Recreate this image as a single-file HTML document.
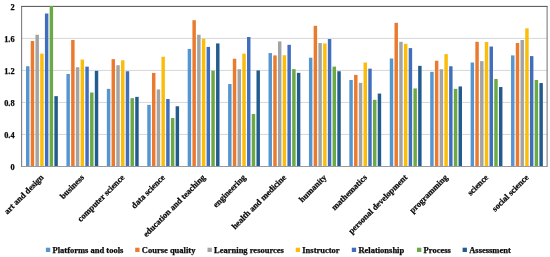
<!DOCTYPE html><html><head><meta charset="utf-8"><title>chart</title><style>html,body{margin:0;padding:0;background:#fff}svg{display:block}text{font-family:"Liberation Serif",serif;font-weight:bold;fill:#0a0a0a;stroke:#0a0a0a;stroke-width:0.25px}</style></head><body>
<svg width="550" height="257" viewBox="0 0 550 257">
<rect width="550" height="257" fill="#fff"/>
<line x1="21.65" x2="547.1" y1="134.48" y2="134.48" stroke="#d4d4d4" stroke-width="0.9"/>
<line x1="21.65" x2="547.1" y1="102.46" y2="102.46" stroke="#d4d4d4" stroke-width="0.9"/>
<line x1="21.65" x2="547.1" y1="70.44" y2="70.44" stroke="#d4d4d4" stroke-width="0.9"/>
<line x1="21.65" x2="547.1" y1="38.42" y2="38.42" stroke="#d4d4d4" stroke-width="0.9"/>
<path d="M21.65 167.0V6.4M547.1 6.4V167.0" fill="none" stroke="#707070" stroke-width="1"/>
<path d="M21.15 6.4H547.6" fill="none" stroke="#505050" stroke-width="1"/>
<rect x="26.00" y="66.24" width="3.45" height="100.26" fill="#5596D1"/>
<rect x="30.73" y="41.02" width="3.45" height="125.48" fill="#E97A2E"/>
<rect x="35.46" y="34.74" width="3.45" height="131.76" fill="#A3A3A3"/>
<rect x="40.19" y="53.63" width="3.45" height="112.87" fill="#FABD0C"/>
<rect x="44.92" y="13.52" width="3.45" height="152.98" fill="#406EBF"/>
<rect x="49.65" y="5.92" width="3.45" height="160.58" fill="#6BA944"/>
<rect x="54.38" y="96.14" width="3.45" height="70.36" fill="#225C8E"/>
<rect x="66.42" y="73.96" width="3.45" height="92.54" fill="#5596D1"/>
<rect x="71.15" y="40.02" width="3.45" height="126.48" fill="#E97A2E"/>
<rect x="75.88" y="67.24" width="3.45" height="99.26" fill="#A3A3A3"/>
<rect x="80.61" y="59.55" width="3.45" height="106.95" fill="#FABD0C"/>
<rect x="85.34" y="66.64" width="3.45" height="99.86" fill="#406EBF"/>
<rect x="90.07" y="92.53" width="3.45" height="73.97" fill="#6BA944"/>
<rect x="94.80" y="70.84" width="3.45" height="95.66" fill="#225C8E"/>
<rect x="106.84" y="88.85" width="3.45" height="77.65" fill="#5596D1"/>
<rect x="111.57" y="59.15" width="3.45" height="107.35" fill="#E97A2E"/>
<rect x="116.30" y="65.24" width="3.45" height="101.26" fill="#A3A3A3"/>
<rect x="121.03" y="60.27" width="3.45" height="106.23" fill="#FABD0C"/>
<rect x="125.76" y="71.24" width="3.45" height="95.26" fill="#406EBF"/>
<rect x="130.49" y="98.14" width="3.45" height="68.36" fill="#6BA944"/>
<rect x="135.22" y="96.86" width="3.45" height="69.64" fill="#225C8E"/>
<rect x="147.26" y="104.86" width="3.45" height="61.64" fill="#5596D1"/>
<rect x="151.99" y="72.92" width="3.45" height="93.58" fill="#E97A2E"/>
<rect x="156.72" y="89.45" width="3.45" height="77.05" fill="#A3A3A3"/>
<rect x="161.45" y="56.75" width="3.45" height="109.75" fill="#FABD0C"/>
<rect x="166.18" y="99.02" width="3.45" height="67.48" fill="#406EBF"/>
<rect x="170.91" y="117.99" width="3.45" height="48.51" fill="#6BA944"/>
<rect x="175.64" y="106.26" width="3.45" height="60.24" fill="#225C8E"/>
<rect x="187.68" y="48.91" width="3.45" height="117.59" fill="#5596D1"/>
<rect x="192.41" y="20.21" width="3.45" height="146.29" fill="#E97A2E"/>
<rect x="197.14" y="34.74" width="3.45" height="131.76" fill="#A3A3A3"/>
<rect x="201.87" y="38.82" width="3.45" height="127.68" fill="#FABD0C"/>
<rect x="206.60" y="46.91" width="3.45" height="119.59" fill="#406EBF"/>
<rect x="211.33" y="70.64" width="3.45" height="95.86" fill="#6BA944"/>
<rect x="216.06" y="43.42" width="3.45" height="123.08" fill="#225C8E"/>
<rect x="228.10" y="84.05" width="3.45" height="82.45" fill="#5596D1"/>
<rect x="232.83" y="58.75" width="3.45" height="107.75" fill="#E97A2E"/>
<rect x="237.56" y="69.24" width="3.45" height="97.26" fill="#A3A3A3"/>
<rect x="242.29" y="53.63" width="3.45" height="112.87" fill="#FABD0C"/>
<rect x="247.02" y="37.02" width="3.45" height="129.48" fill="#406EBF"/>
<rect x="251.75" y="113.99" width="3.45" height="52.51" fill="#6BA944"/>
<rect x="256.48" y="70.44" width="3.45" height="96.06" fill="#225C8E"/>
<rect x="268.52" y="53.07" width="3.45" height="113.43" fill="#5596D1"/>
<rect x="273.25" y="55.39" width="3.45" height="111.11" fill="#E97A2E"/>
<rect x="277.98" y="41.42" width="3.45" height="125.08" fill="#A3A3A3"/>
<rect x="282.71" y="55.23" width="3.45" height="111.27" fill="#FABD0C"/>
<rect x="287.44" y="44.82" width="3.45" height="121.68" fill="#406EBF"/>
<rect x="292.17" y="69.16" width="3.45" height="97.34" fill="#6BA944"/>
<rect x="296.90" y="72.84" width="3.45" height="93.66" fill="#225C8E"/>
<rect x="308.93" y="57.71" width="3.45" height="108.79" fill="#5596D1"/>
<rect x="313.66" y="25.81" width="3.45" height="140.69" fill="#E97A2E"/>
<rect x="318.39" y="43.02" width="3.45" height="123.48" fill="#A3A3A3"/>
<rect x="323.12" y="43.42" width="3.45" height="123.08" fill="#FABD0C"/>
<rect x="327.85" y="39.02" width="3.45" height="127.48" fill="#406EBF"/>
<rect x="332.58" y="66.64" width="3.45" height="99.86" fill="#6BA944"/>
<rect x="337.31" y="71.24" width="3.45" height="95.26" fill="#225C8E"/>
<rect x="349.35" y="79.97" width="3.45" height="86.53" fill="#5596D1"/>
<rect x="354.08" y="74.92" width="3.45" height="91.58" fill="#E97A2E"/>
<rect x="358.81" y="82.85" width="3.45" height="83.65" fill="#A3A3A3"/>
<rect x="363.54" y="62.52" width="3.45" height="103.98" fill="#FABD0C"/>
<rect x="368.27" y="68.64" width="3.45" height="97.86" fill="#406EBF"/>
<rect x="373.00" y="99.82" width="3.45" height="66.68" fill="#6BA944"/>
<rect x="377.73" y="93.57" width="3.45" height="72.93" fill="#225C8E"/>
<rect x="389.77" y="58.51" width="3.45" height="107.99" fill="#5596D1"/>
<rect x="394.50" y="22.81" width="3.45" height="143.69" fill="#E97A2E"/>
<rect x="399.23" y="41.82" width="3.45" height="124.68" fill="#A3A3A3"/>
<rect x="403.96" y="43.82" width="3.45" height="122.68" fill="#FABD0C"/>
<rect x="408.69" y="48.11" width="3.45" height="118.39" fill="#406EBF"/>
<rect x="413.42" y="88.45" width="3.45" height="78.05" fill="#6BA944"/>
<rect x="418.15" y="65.84" width="3.45" height="100.66" fill="#225C8E"/>
<rect x="430.19" y="71.84" width="3.45" height="94.66" fill="#5596D1"/>
<rect x="434.92" y="60.75" width="3.45" height="105.75" fill="#E97A2E"/>
<rect x="439.65" y="69.24" width="3.45" height="97.26" fill="#A3A3A3"/>
<rect x="444.38" y="54.11" width="3.45" height="112.39" fill="#FABD0C"/>
<rect x="449.11" y="66.24" width="3.45" height="100.26" fill="#406EBF"/>
<rect x="453.84" y="88.85" width="3.45" height="77.65" fill="#6BA944"/>
<rect x="458.57" y="86.45" width="3.45" height="80.05" fill="#225C8E"/>
<rect x="470.61" y="62.52" width="3.45" height="103.98" fill="#5596D1"/>
<rect x="475.34" y="41.82" width="3.45" height="124.68" fill="#E97A2E"/>
<rect x="480.07" y="61.15" width="3.45" height="105.35" fill="#A3A3A3"/>
<rect x="484.80" y="42.02" width="3.45" height="124.48" fill="#FABD0C"/>
<rect x="489.53" y="46.51" width="3.45" height="119.99" fill="#406EBF"/>
<rect x="494.26" y="78.93" width="3.45" height="87.57" fill="#6BA944"/>
<rect x="498.99" y="87.05" width="3.45" height="79.45" fill="#225C8E"/>
<rect x="511.03" y="55.39" width="3.45" height="111.11" fill="#5596D1"/>
<rect x="515.76" y="43.02" width="3.45" height="123.48" fill="#E97A2E"/>
<rect x="520.49" y="40.02" width="3.45" height="126.48" fill="#A3A3A3"/>
<rect x="525.22" y="28.33" width="3.45" height="138.17" fill="#FABD0C"/>
<rect x="529.95" y="56.11" width="3.45" height="110.39" fill="#406EBF"/>
<rect x="534.68" y="79.97" width="3.45" height="86.53" fill="#6BA944"/>
<rect x="539.41" y="83.05" width="3.45" height="83.45" fill="#225C8E"/>
<line x1="21.65" x2="547.1" y1="166.5" y2="166.5" stroke="#9a9a9a" stroke-width="1.1"/>
<text x="14.6" y="169.70" font-size="8.3" text-anchor="end">0</text>
<text x="14.6" y="137.68" font-size="8.3" text-anchor="end">0.4</text>
<text x="14.6" y="105.66" font-size="8.3" text-anchor="end">0.8</text>
<text x="14.6" y="73.64" font-size="8.3" text-anchor="end">1.2</text>
<text x="14.6" y="41.62" font-size="8.3" text-anchor="end">1.6</text>
<text x="14.6" y="9.60" font-size="8.3" text-anchor="end">2</text>
<text transform="translate(44.16,178.00) rotate(-45)" font-size="8.5" text-anchor="end">art and design</text>
<text transform="translate(84.58,178.00) rotate(-45)" font-size="8.5" text-anchor="end">business</text>
<text transform="translate(125.00,178.00) rotate(-45)" font-size="8.5" text-anchor="end">computer science</text>
<text transform="translate(165.42,178.00) rotate(-45)" font-size="8.5" text-anchor="end">data science</text>
<text transform="translate(205.84,178.00) rotate(-45)" font-size="8.5" text-anchor="end">education and teaching</text>
<text transform="translate(246.26,178.00) rotate(-45)" font-size="8.5" text-anchor="end">engineering</text>
<text transform="translate(286.68,178.00) rotate(-45)" font-size="8.5" text-anchor="end">health and medicine</text>
<text transform="translate(327.09,178.00) rotate(-45)" font-size="8.5" text-anchor="end">humanity</text>
<text transform="translate(367.51,178.00) rotate(-45)" font-size="8.5" text-anchor="end">mathematics</text>
<text transform="translate(407.93,178.00) rotate(-45)" font-size="8.5" text-anchor="end">personal development</text>
<text transform="translate(448.35,178.00) rotate(-45)" font-size="8.5" text-anchor="end">programming</text>
<text transform="translate(488.77,178.00) rotate(-45)" font-size="8.5" text-anchor="end">science</text>
<text transform="translate(529.19,178.00) rotate(-45)" font-size="8.5" text-anchor="end">social science</text>
<rect x="45.9" y="247.7" width="4.3" height="4.3" fill="#5596D1"/>
<text x="52.5" y="252.8" font-size="8.5">Platforms and tools</text>
<rect x="135.2" y="247.7" width="4.3" height="4.3" fill="#E97A2E"/>
<text x="141.79999999999998" y="252.8" font-size="8.5">Course quality</text>
<rect x="207.5" y="247.7" width="4.3" height="4.3" fill="#A3A3A3"/>
<text x="214.1" y="252.8" font-size="8.5">Learning resources</text>
<rect x="295.7" y="247.7" width="4.3" height="4.3" fill="#FABD0C"/>
<text x="302.3" y="252.8" font-size="8.5">Instructor</text>
<rect x="351.8" y="247.7" width="4.3" height="4.3" fill="#406EBF"/>
<text x="358.40000000000003" y="252.8" font-size="8.5">Relationship</text>
<rect x="417.0" y="247.7" width="4.3" height="4.3" fill="#6BA944"/>
<text x="423.6" y="252.8" font-size="8.5">Process</text>
<rect x="462.6" y="247.7" width="4.3" height="4.3" fill="#225C8E"/>
<text x="469.20000000000005" y="252.8" font-size="8.5">Assessment</text>
</svg></body></html>
